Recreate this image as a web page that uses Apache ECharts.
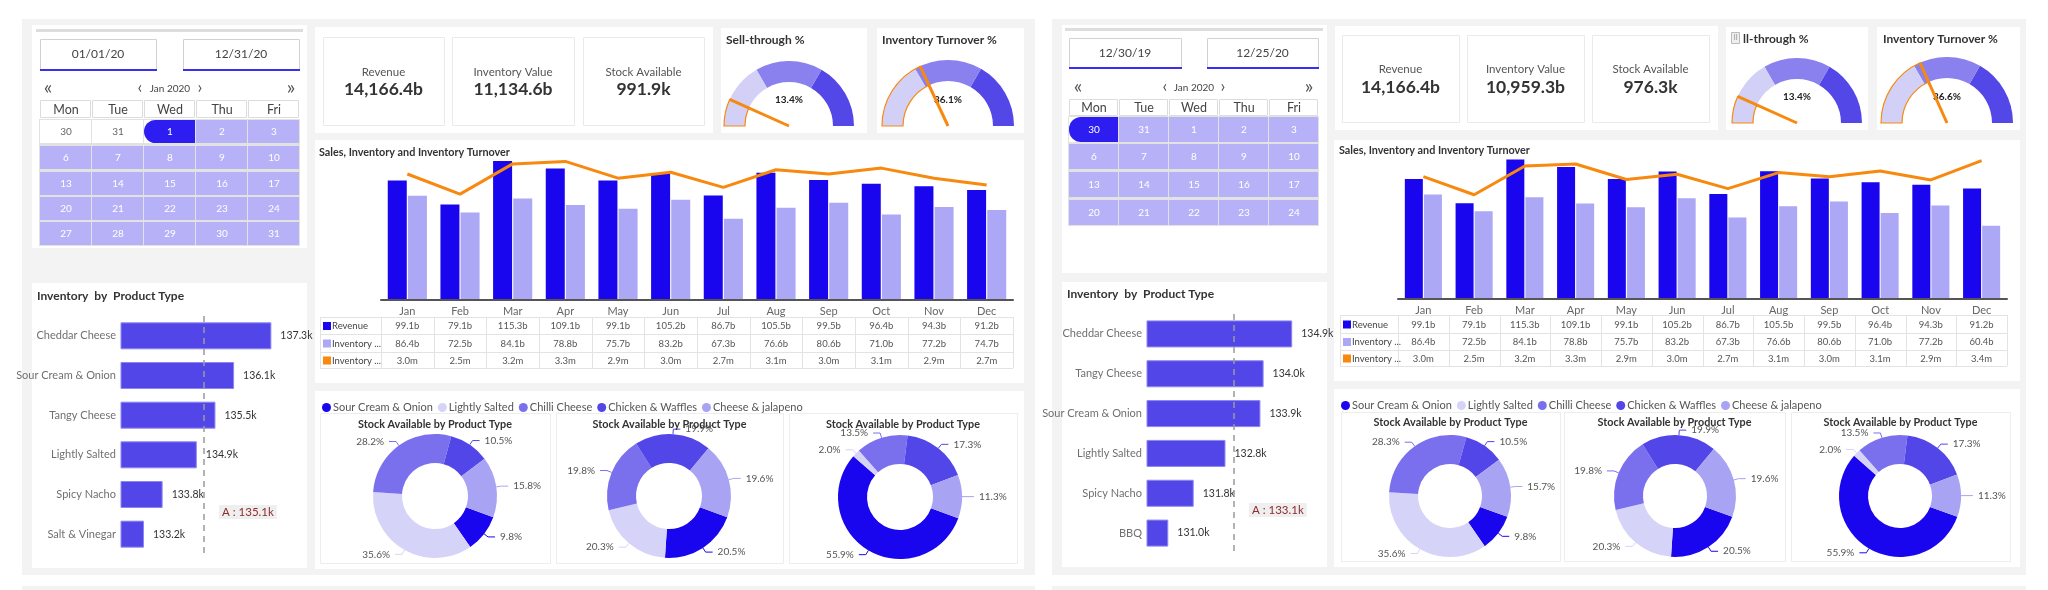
<!DOCTYPE html>
<html>
<head>
<meta charset="utf-8">
<script src="https://cdn.jsdelivr.net/npm/echarts@6/dist/echarts.min.js"></script>
<style>
html,body{margin:0;padding:0;background:#fff;}
#main{width:2048px;height:590px;}
</style>
</head>
<body>
<div id="main"></div>
<script>
// ---- data ----
var months = ['Jan','Feb','Mar','Apr','May','Jun','Jul','Aug','Sep','Oct','Nov','Dec'];
var revenueL = [99.1, 79.1, 115.3, 109.1, 99.1, 105.2, 86.7, 105.5, 99.5, 96.4, 94.3, 91.2];
var inventoryL = [86.4, 72.5, 84.1, 78.8, 75.7, 83.2, 67.3, 76.6, 80.6, 71.0, 77.2, 74.7];
var turnoverL = [3.0, 2.52, 3.24, 3.30, 2.90, 3.04, 2.68, 3.10, 3.0, 3.14, 2.90, 2.74];
var revenueR = [99.1, 79.1, 115.3, 109.1, 99.1, 105.2, 86.7, 105.5, 99.5, 96.4, 94.3, 91.2];
var inventoryR = [86.4, 72.5, 84.1, 78.8, 75.7, 83.2, 67.3, 76.6, 80.6, 71.0, 77.2, 60.4];
var turnoverR = [2.98, 2.54, 3.24, 3.29, 2.91, 3.04, 2.69, 3.08, 2.98, 3.12, 2.90, 3.37];
var tableLabels = ['Revenue', 'Inventory ...', 'Inventory ...'];

var weekdays = ['Mon','Tue','Wed','Thu','Fri'];
var calDaysL = [[30,31,1,2,3],[6,7,8,9,10],[13,14,15,16,17],[20,21,22,23,24],[27,28,29,30,31]];
var calDaysR = [[30,31,1,2,3],[6,7,8,9,10],[13,14,15,16,17],[20,21,22,23,24]];
var dateRangeL = ['01/01/20','12/31/20'];
var dateRangeR = ['12/30/19','12/25/20'];
var calMonth = 'Jan 2020';

var kpiLabels = ['Revenue','Inventory Value','Stock Available'];
var kpiValuesL = ['14,166.4b','11,134.6b','991.9k'];
var kpiValuesR = ['14,166.4b','10,959.3b','976.3k'];

var gaugeTitlesL = ['Sell-through %','Inventory Turnover %'];
var gaugeTitlesR = ['ll-through %','Inventory Turnover %'];
var gaugeValuesL = [13.4, 36.1];
var gaugeValuesR = [13.4, 36.6];

var productsL = ['Cheddar Cheese','Sour Cream & Onion','Tangy Cheese','Lightly Salted','Spicy Nacho','Salt & Vinegar'];
var stockL = [137.3, 136.1, 135.5, 134.9, 133.8, 133.2];
var productsR = ['Cheddar Cheese','Tangy Cheese','Sour Cream & Onion','Lightly Salted','Spicy Nacho','BBQ'];
var stockR = [134.9, 134.0, 133.9, 132.8, 131.8, 131.0];

var flavours = ['Sour Cream & Onion','Lightly Salted','Chilli Cheese','Chicken & Waffles','Cheese & jalapeno'];
var donutsL = [[9.8, 35.6, 28.2, 10.5, 15.8],[20.5, 20.3, 19.8, 19.9, 19.6],[55.9, 2.0, 13.5, 17.3, 11.3]];
var donutsR = [[9.8, 35.6, 28.3, 10.5, 15.7],[20.5, 20.3, 19.8, 19.9, 19.6],[55.9, 2.0, 13.5, 17.3, 11.3]];

// ---- styles ----
var FONT = 'Lato, "Open Sans", "Noto Sans", sans-serif';
var C = {bg:'#F3F3F3', rev:'#1905EE', inv:'#ADA8F5', orange:'#F7890F', prod:'#5246E9',
         cal:'#B7B2F8', calSel:'#2D1DF0', g1:'#D3D0F7', g2:'#8A80EE', g3:'#5447E8'};
var flavourColors = ['#1A06EE','#D6D3F8','#7A70EE','#5246E9','#A9A3F4'];

// ---- layouts (pixel positions) ----
var LAY = [{
  bg:[22,19,1013,556],
  cal:{panel:[32,25,275,223], bar:[36,29,267,3], boxes:[[40,39,116,31],[183,39,116,31]],
       navY:88, navX:[48,170,291], navD:30, headY:100, headH:17, colX:40, colW:52,
       rowY:[120,146,172,197,222], rowH:23, out:2, sel:[0,2]},
  kpi:{panel:[315,27,398,106], cards:[[323,37,121,88],[452,37,122,88],[583,37,121,88]], labelY:72, valueY:89},
  gauges:[{panel:[721,28,146,105], tx:726, ty:40, c:[789,126], r:65},
          {panel:[877,28,147,105], tx:882, ty:40, c:[948,126], r:66}],
  combo:{panel:[315,140,709,243], tx:319, ty:153, grid:[381,155.3,632,144.7], barMax:120, lineMax:3.445, bw:19,
         tX:320, rows:[317,334,352,368]},
  inv:{panel:[32,283,275,285], tx:37, ty:296, grid:[121,316,169,238], min:132.46, max:137.9, labelY:512},
  donut:{panel:[315,391,709,178], legend:[317,397], subs:[[320,413,230,150],[556,413,227,150],[789,413,228,150]],
         titleY:425, centers:[[435,496],[669,496],[900,497]], r:[33,62]}
},{
  bg:[1052,19,974,556],
  cal:{panel:[1062,25,265,248], bar:[1065,28,258,3], boxes:[[1069,38,112,30],[1207,38,111,30]],
       navY:87, navX:[1078,1194,1309], navD:29, headY:99, headH:16, colX:1069, colW:50,
       rowY:[117,144,172,200], rowH:25, out:0, sel:[0,0]},
  kpi:{panel:[1335,26,383,104], cards:[[1342,35,117,87],[1467,35,117,87],[1592,35,117,87]], labelY:69, valueY:87},
  gauges:[{panel:[1726,27,142,103], tx:1743, ty:39, icon:true, c:[1797,123], r:65},
          {panel:[1877,27,143,103], tx:1883, ty:39, c:[1947,123], r:66}],
  combo:{panel:[1334,140,686,241], tx:1339, ty:151, grid:[1398,153.7,609,145.3], barMax:120, lineMax:3.54, bw:18,
         tX:1340, rows:[315,333,350,366]},
  inv:{panel:[1062,282,265,285], tx:1067, ty:294, grid:[1147,314,163,239], min:130.33, max:135.46, labelY:510},
  donut:{panel:[1334,389,686,178], legend:[1336,395], subs:[[1341,412,219,149],[1564,412,221,149],[1791,412,219,149]],
         titleY:423, centers:[[1450,496],[1675,496],[1900,496]], r:[32,61]}
}];

var SETS = [
  {rev:revenueL, inv:inventoryL, turn:turnoverL, days:calDaysL, range:dateRangeL, kpi:kpiValuesL,
   gTitles:gaugeTitlesL, gauge:gaugeValuesL, prod:productsL, stock:stockL, donuts:donutsL},
  {rev:revenueR, inv:inventoryR, turn:turnoverR, days:calDaysR, range:dateRangeR, kpi:kpiValuesR,
   gTitles:gaugeTitlesR, gauge:gaugeValuesR, prod:productsR, stock:stockR, donuts:donutsR}
];

var chart = echarts.init(document.getElementById('main'));
var option = {animation:false, textStyle:{fontFamily:FONT}, grid:[], xAxis:[], yAxis:[], series:[], legend:[]};

function addSeries(k, D, S) {
  var cg = D.combo.grid, ig = D.inv.grid;
  option.grid.push({left:cg[0], top:cg[1], width:cg[2], height:cg[3]});
  option.grid.push({left:ig[0], top:ig[1], width:ig[2], height:ig[3]});
  option.xAxis.push({type:'category', gridIndex:2*k, data:months, z:3,
    axisLine:{lineStyle:{color:'#555', width:2}}, axisTick:{show:false},
    axisLabel:{color:'#666', fontSize:11, margin:6}});
  option.xAxis.push({type:'value', gridIndex:2*k+1, min:D.inv.min, max:D.inv.max, show:false});
  option.yAxis.push({type:'value', gridIndex:2*k, min:0, max:D.combo.barMax, show:false});
  option.yAxis.push({type:'value', gridIndex:2*k, min:0, max:D.combo.lineMax, show:false});
  option.yAxis.push({type:'category', gridIndex:2*k+1, data:S.prod, inverse:true, z:3,
    axisLine:{show:false}, axisTick:{show:false}, axisLabel:{color:'#707070', fontSize:11, margin:5}});

  option.series.push({type:'bar', name:'Revenue', xAxisIndex:2*k, yAxisIndex:3*k, data:S.rev,
    barWidth:D.combo.bw, barGap:'6%', itemStyle:{color:C.rev}, emphasis:{disabled:true}});
  option.series.push({type:'bar', name:'Inventory Value', xAxisIndex:2*k, yAxisIndex:3*k, data:S.inv,
    barWidth:D.combo.bw, barGap:'6%', itemStyle:{color:C.inv}, emphasis:{disabled:true}});
  option.series.push({type:'line', name:'Inventory Turnover', xAxisIndex:2*k, yAxisIndex:3*k+1, data:S.turn,
    symbol:'none', lineStyle:{color:C.orange, width:3}, itemStyle:{color:C.orange}, z:4});

  option.series.push({type:'bar', name:'Stock', xAxisIndex:2*k+1, yAxisIndex:3*k+2, data:S.stock, barWidth:27,
    itemStyle:{color:C.prod, borderColor:'#8C86F1', borderWidth:1}, emphasis:{disabled:true},
    label:{show:true, position:'right', distance:9, fontSize:10.5, color:'#333',
      formatter:function(p){return p.value.toFixed(1) + 'k';}},
    markLine:{silent:true, symbol:'none', label:{show:false},
      lineStyle:{color:'#9A9A9A', type:[6,5], width:1.5}, data:[{type:'average'}]}});

  D.gauges.forEach(function(g, gi) {
    option.series.push({type:'gauge', center:g.c, radius:g.r, startAngle:180, endAngle:0, min:0, max:100,
      axisLine:{lineStyle:{width:21, color:[[1/3, C.g1],[2/3, C.g2],[1, C.g3]]}},
      progress:{show:true, width:21, itemStyle:{color:'rgba(255,255,255,0)', borderColor:C.orange, borderWidth:1.2}},
      pointer:{show:true, icon:'rect', length:'100%', width:3, offsetCenter:[0,0], itemStyle:{color:C.orange}},
      anchor:{show:false}, axisTick:{show:false}, splitLine:{show:false}, axisLabel:{show:false}, title:{show:false},
      detail:{offsetCenter:[0,-26], fontSize:10, fontWeight:'bold', color:'#222', fontFamily:FONT,
        formatter:function(v){return v.toFixed(1) + '%';}},
      data:[{value:S.gauge[gi]}]});
  });

  S.donuts.forEach(function(vals, di) {
    option.series.push({type:'pie', center:D.donut.centers[di], radius:D.donut.r, startAngle:-20,
      avoidLabelOverlap:true, emphasis:{disabled:true},
      label:{show:true, position:'outside', fontSize:10, color:'#555', fontFamily:FONT,
        formatter:function(p){return p.value.toFixed(1) + '%';}},
      labelLine:{show:true, length:5, length2:7, lineStyle:{width:1}},
      data:vals.map(function(v, i){return {name:flavours[i], value:v, itemStyle:{color:flavourColors[i]}};})});
  });

  option.legend.push({left:D.donut.legend[0], top:D.donut.legend[1], data:flavours, icon:'circle',
    itemWidth:9, itemHeight:9, itemGap:5, selectedMode:false,
    textStyle:{fontSize:11, color:'#555', fontFamily:FONT, padding:[0,0,0,-3]}});
}

var gid = 0;
function R(x, y, w, h, fill, o) {
  o = o || {};
  return {type:'rect', id:'g' + (gid++), silent:true, z:(o.z == null ? 1 : o.z),
    shape:{x:x, y:y, width:w, height:h, r:o.r || 0},
    style:{fill:fill, stroke:o.stroke || null, lineWidth:o.lw || 0}};
}
function T(x, y, s, o) {
  o = o || {};
  var st = {text:s, fill:o.c || '#333', fontSize:o.fs || 11, fontFamily:o.ff || FONT, fontWeight:o.fw || 'normal',
    textAlign:o.a || 'left', align:o.a || 'left', textVerticalAlign:'middle', verticalAlign:'middle'};
  if (o.bg) { st.backgroundColor = o.bg; st.padding = o.pad || [1,3]; }
  return {type:'text', id:'g' + (gid++), silent:true, z:(o.z == null ? 5 : o.z), x:x, y:y, style:st};
}
function Ln(x1, y1, x2, y2, c, w) {
  return {type:'line', id:'g' + (gid++), silent:true, z:2, shape:{x1:x1, y1:y1, x2:x2, y2:y2},
    style:{stroke:c, lineWidth:w || 1}};
}

function dashGraphics(k, D, S) {
  var g = [];
  var b = D.bg;
  g.push(R(b[0], b[1], b[2], b[3], C.bg, {z:0}));
  g.push(R(b[0], 586, b[2], 4, C.bg, {z:0}));
  [D.cal.panel, D.kpi.panel, D.gauges[0].panel, D.gauges[1].panel, D.combo.panel, D.inv.panel, D.donut.panel]
    .forEach(function(p){ g.push(R(p[0], p[1], p[2], p[3], '#fff', {z:0.5})); });

  // date slicer
  var cl = D.cal;
  g.push(R(cl.bar[0], cl.bar[1], cl.bar[2], cl.bar[3], '#DDDDDD'));
  cl.boxes.forEach(function(bx, i) {
    g.push(R(bx[0] + 0.5, bx[1] + 0.5, bx[2], bx[3], '#fff', {stroke:'#D2D2D2', lw:1}));
    g.push(R(bx[0], bx[1] + bx[3] - 1, bx[2] + 1, 2, '#3A2EF0', {z:2}));
    g.push(T(bx[0] + bx[2] / 2, bx[1] + bx[3] / 2, S.range[i], {a:'center', fs:12, c:'#444'}));
  });
  g.push(T(cl.navX[0], cl.navY, '«', {a:'center', fs:20, c:'#555'}));
  g.push(T(cl.navX[2], cl.navY, '»', {a:'center', fs:20, c:'#555'}));
  g.push(T(cl.navX[1] - cl.navD, cl.navY, '‹', {a:'center', fs:17, c:'#555'}));
  g.push(T(cl.navX[1] + cl.navD, cl.navY, '›', {a:'center', fs:17, c:'#555'}));
  g.push(T(cl.navX[1], cl.navY + 1, calMonth, {a:'center', fs:10, c:'#444'}));
  weekdays.forEach(function(d, c) {
    var x = cl.colX + c * cl.colW;
    g.push(R(x + 0.5, cl.headY + 0.5, cl.colW - 2, cl.headH, '#fff', {stroke:'#DCDCDC', lw:1}));
    g.push(T(x + cl.colW / 2, cl.headY + cl.headH / 2 + 1, d, {a:'center', fs:12.5, c:'#444'}));
  });
  var last = cl.rowY[cl.rowY.length - 1] + cl.rowH;
  g.push(R(cl.colX - 1, cl.rowY[0] - 1, cl.colW * 5 + 1, last - cl.rowY[0] + 2, '#E2E2E2', {z:0.8}));
  S.days.forEach(function(row, r) {
    row.forEach(function(d, c) {
      var x = cl.colX + c * cl.colW, y = cl.rowY[r];
      var isOut = (r === 0 && c < cl.out), isSel = (r === cl.sel[0] && c === cl.sel[1]);
      if (isSel) {
        g.push(R(x, y, cl.colW - 1, cl.rowH, '#fff', {z:1}));
        g.push(R(x, y, cl.colW - 1, cl.rowH, C.calSel, {z:1.2, r:[12,0,0,12]}));
      } else {
        g.push(R(x, y, cl.colW - 1, cl.rowH, isOut ? '#fff' : C.cal, {z:1}));
      }
      g.push(T(x + cl.colW / 2, y + cl.rowH / 2, String(d), {a:'center', fs:10, c:isOut ? '#666' : '#fff'}));
    });
  });

  // KPI cards
  D.kpi.cards.forEach(function(cd, i) {
    g.push(R(cd[0] + 0.5, cd[1] + 0.5, cd[2], cd[3], '#fff', {stroke:'#EAEAEA', lw:1}));
    g.push(T(cd[0] + cd[2] / 2, D.kpi.labelY, kpiLabels[i], {a:'center', fs:11.5, c:'#555'}));
    g.push(T(cd[0] + cd[2] / 2, D.kpi.valueY, S.kpi[i], {a:'center', fs:17.5, fw:'bold', c:'#333'}));
  });

  // gauge titles
  D.gauges.forEach(function(gg, gi) {
    if (gg.icon) {
      g.push(R(gg.panel[0] + 5.5, gg.ty - 6.5, 8, 11, '#EEEEEE', {stroke:'#BBBBBB', lw:1, z:3}));
      g.push(T(gg.panel[0] + 9.5, gg.ty - 1, '⠿', {a:'center', fs:7, c:'#777', ff:'DejaVu Sans'}));
    }
    g.push(T(gg.tx, gg.ty, S.gTitles[gi], {fs:12, fw:'bold', c:'#333'}));
  });

  g.push(T(D.combo.tx, D.combo.ty, 'Sales, Inventory and Inventory Turnover', {fs:10.8, fw:'bold', c:'#333'}));
  g.push(T(D.inv.tx, D.inv.ty, 'Inventory  by  Product Type', {fs:12, fw:'bold', c:'#333'}));

  D.donut.subs.forEach(function(sb) {
    g.push(R(sb[0] + 0.5, sb[1] + 0.5, sb[2], sb[3], '#fff', {stroke:'#EDEDED', lw:1, z:0.7}));
    g.push(T(sb[0] + sb[2] / 2, D.donut.titleY, 'Stock Available by Product Type', {a:'center', fs:10.8, fw:'bold', c:'#333'}));
  });

  // data table under the combo chart, aligned with the category axis
  var cx = months.map(function(m){ return chart.convertToPixel({xAxisIndex:2*k}, m); });
  var half = (cx[1] - cx[0]) / 2;
  var rows = D.combo.rows, x0 = D.combo.tX, x1 = cx[0] - half, xe = cx[11] + half;
  rows.forEach(function(y){ g.push(Ln(x0, y + 0.5, xe, y + 0.5, '#E3E3E3')); });
  [x0, x1].concat(cx.map(function(c){ return c + half; })).forEach(function(x) {
    g.push(Ln(Math.round(x) + 0.5, rows[0], Math.round(x) + 0.5, rows[rows.length - 1], '#E3E3E3'));
  });
  var tRows = [{vals:S.rev, unit:'b', col:C.rev}, {vals:S.inv, unit:'b', col:C.inv}, {vals:S.turn, unit:'m', col:C.orange}];
  tRows.forEach(function(tr, r) {
    var ym = (rows[r] + rows[r + 1]) / 2 + 0.5;
    g.push(R(x0 + 3, ym - 4, 8, 8, tr.col, {z:3}));
    g.push(T(x0 + 12, ym, tableLabels[r], {fs:9.5, c:'#444'}));
    tr.vals.forEach(function(v, i) {
      g.push(T(cx[i], ym, v.toFixed(1) + tr.unit, {a:'center', fs:9.5, c:'#555'}));
    });
  });

  // average label of the product bar chart
  var avg = S.stock.reduce(function(a, v){ return a + v; }, 0) / S.stock.length;
  var ax = chart.convertToPixel({xAxisIndex:2*k+1}, avg);
  g.push(T(ax + 15, D.inv.labelY, 'A : ' + avg.toFixed(1) + 'k', {fs:11.5, c:'#8E2B2B', bg:'#EFEFEF', pad:[1,3]}));
  return g;
}

addSeries(0, LAY[0], SETS[0]);
addSeries(1, LAY[1], SETS[1]);
chart.setOption(option);

var elements = dashGraphics(0, LAY[0], SETS[0]).concat(dashGraphics(1, LAY[1], SETS[1]));
chart.setOption({graphic:{elements:elements}});
</script>
</body>
</html>
